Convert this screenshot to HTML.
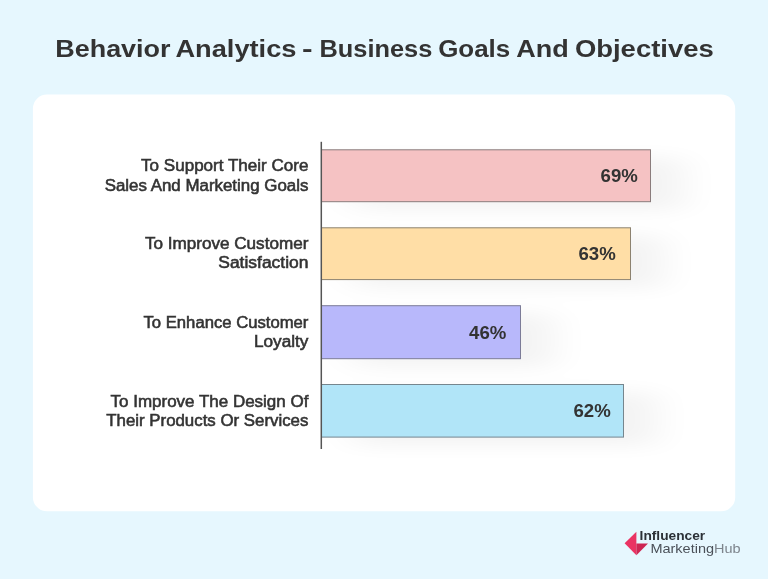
<!DOCTYPE html>
<html lang="en">
<head>
<meta charset="utf-8">
<title>Behavior Analytics - Business Goals And Objectives</title>
<style>
  html, body { margin: 0; padding: 0; }
  body { width: 768px; height: 579px; overflow: hidden; background: #e6f7fe; }
  svg { display: block; }
  text { font-family: "Liberation Sans", sans-serif; fill: #333333; }
  .title { font-weight: bold; font-size: 24.7px; }
  .lbl { font-size: 15.8px; text-anchor: end; stroke: #333333; stroke-width: 0.55px; }
  .pct { font-weight: bold; font-size: 17.5px; }
</style>
</head>
<body>
<svg width="768" height="579" viewBox="0 0 768 579">
  <defs>
    <filter id="sh" x="-20%" y="-20%" width="160%" height="150%">
      <feGaussianBlur in="SourceAlpha" stdDeviation="20 9"/>
      <feOffset dx="32" dy="8" result="b"/>
      <feComponentTransfer><feFuncA type="linear" slope="0.05"/></feComponentTransfer>
      <feMerge><feMergeNode/><feMergeNode in="SourceGraphic"/></feMerge>
    </filter>
  </defs>
  <rect x="0" y="0" width="768" height="579" fill="#e6f7fe"/>
  <g opacity="0.999">
  <rect x="32.9" y="94.6" width="702.3" height="416.6" rx="14" ry="14" fill="#ffffff"/>

  <text class="title" y="57.2"><tspan x="55.2" textLength="115.4" lengthAdjust="spacingAndGlyphs">Behavior</tspan> <tspan x="175.4" textLength="121.1" lengthAdjust="spacingAndGlyphs">Analytics</tspan> <tspan x="302.0" textLength="10.6" lengthAdjust="spacingAndGlyphs">-</tspan> <tspan x="319.5" textLength="112.8" lengthAdjust="spacingAndGlyphs">Business</tspan> <tspan x="438.2" textLength="72.0" lengthAdjust="spacingAndGlyphs">Goals</tspan> <tspan x="516.3" textLength="52.5" lengthAdjust="spacingAndGlyphs">And</tspan> <tspan x="574.9" textLength="138.8" lengthAdjust="spacingAndGlyphs">Objectives</tspan></text>

  <!-- bars -->
  <g filter="url(#sh)">
    <rect x="321.5" y="149.8" width="329" height="51.9" fill="#f5c2c3" stroke="#8a7c7c" stroke-width="1"/>
    <rect x="321.5" y="227.8" width="309" height="51.8" fill="#ffdea6" stroke="#8c8270" stroke-width="1"/>
    <rect x="321.5" y="305.7" width="199" height="53" fill="#b8b8fb" stroke="#7c7c98" stroke-width="1"/>
    <rect x="321.5" y="384.5" width="302" height="52.6" fill="#b1e5f8" stroke="#76868e" stroke-width="1"/>
  </g>
  <!-- axis -->
  <rect x="320.55" y="141.8" width="1.5" height="307.2" fill="#555555"/>

  <!-- labels -->
  <text class="lbl" x="308.4" y="171.1" textLength="167.3" lengthAdjust="spacingAndGlyphs">To Support Their Core</text>
  <text class="lbl" x="308.4" y="190.5" textLength="203.7" lengthAdjust="spacingAndGlyphs">Sales And Marketing Goals</text>
  <text class="lbl" x="308.4" y="248.8" textLength="163.5" lengthAdjust="spacingAndGlyphs">To Improve Customer</text>
  <text class="lbl" x="308.4" y="268.1" textLength="90.1" lengthAdjust="spacingAndGlyphs">Satisfaction</text>
  <text class="lbl" x="308.4" y="327.6" textLength="164.9" lengthAdjust="spacingAndGlyphs">To Enhance Customer</text>
  <text class="lbl" x="308.4" y="346.7" textLength="54.4" lengthAdjust="spacingAndGlyphs">Loyalty</text>
  <text class="lbl" x="308.4" y="406.6" textLength="197.8" lengthAdjust="spacingAndGlyphs">To Improve The Design Of</text>
  <text class="lbl" x="308.4" y="425.5" textLength="202.15" lengthAdjust="spacingAndGlyphs">Their Products Or Services</text>

  <!-- percentages -->
  <text class="pct" x="600.6" y="182.1" textLength="37.3" lengthAdjust="spacingAndGlyphs">69%</text>
  <text class="pct" x="578.5" y="260.3" textLength="37.3" lengthAdjust="spacingAndGlyphs">63%</text>
  <text class="pct" x="469.1" y="338.6" textLength="37.3" lengthAdjust="spacingAndGlyphs">46%</text>
  <text class="pct" x="573.5" y="417.3" textLength="37.3" lengthAdjust="spacingAndGlyphs">62%</text>

  <!-- logo -->
  <g>
    <polygon points="624.6,543.3 636.4,531.8 636.4,555.2" fill="#ea3363"/>
    <polygon points="636.4,543.5 648,543.5 636.4,555.2" fill="#cd2653"/>
    <text x="639.6" y="539.7" font-weight="bold" font-size="13" textLength="65.6" lengthAdjust="spacingAndGlyphs" style="fill:#2b3036">Influencer</text>
    <text x="650.4" y="552.5" font-size="13.1" textLength="90.2" lengthAdjust="spacingAndGlyphs" style="fill:#4a5058">Marketing<tspan style="fill:#7d848c">Hub</tspan></text>
  </g>
  </g>
</svg>
</body>
</html>
